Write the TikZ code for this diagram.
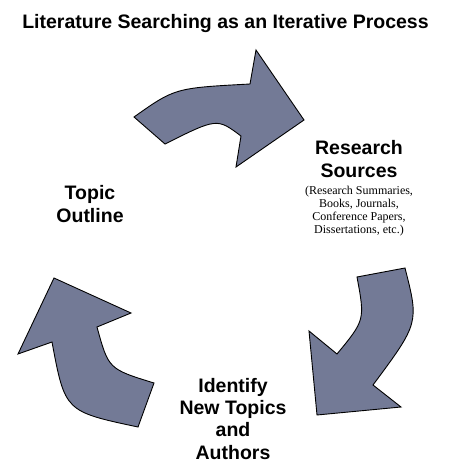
\documentclass[tikz,border=0pt]{standalone}
\usepackage{fontspec}
\setmainfont{Liberation Sans}
\newfontfamily\serifnote{Liberation Serif}
\definecolor{slate}{RGB}{115,122,150}
\begin{document}
\begin{tikzpicture}[x=1pt,y=-1pt,
  blockarrow/.style={fill=slate,draw=black,line width=0.9pt,line join=miter},
  boldlabel/.style={align=center,font=\fontsize{19.5}{22.3}\selectfont\bfseries,inner sep=0pt},
  notelabel/.style={align=center,font=\serifnote\fontsize{12}{13}\selectfont,inner sep=0pt}]
\useasboundingbox (0,0) rectangle (450,471);
% title
\node[boldlabel,anchor=base] (title) at (225.5,28) {Literature Searching as an Iterative Process};
% arrows
\draw[blockarrow] (134,117) .. controls (175,88) .. (250,84) -- (256,50) -- (304,120)
  -- (236,167) -- (241,136) .. controls (217,118) .. (165,144) -- cycle;
\draw[blockarrow] (357,277) -- (405,268) .. controls (419,323) .. (373,385) -- (401,407)
  -- (317,415) -- (309,331) -- (337,354) .. controls (365,320) .. (357,277) -- cycle;
\draw[blockarrow] (54,278) -- (131,313) -- (97,327) .. controls (108.5,369) .. (154,383)
  -- (138,427) .. controls (65,411.5) .. (52,342) -- (18,354) -- cycle;
% labels (base anchor = baseline of the last line)
\node[boldlabel,anchor=base] (research) at (359,177) {Research\\Sources};
\node[notelabel,anchor=base] (details) at (359,233) {(Research Summaries,\\Books, Journals,\\Conference Papers,\\Dissertations, etc.)};
\node[boldlabel,anchor=base] (topic) at (90,222) {Topic\\Outline};
\node[boldlabel,anchor=base] (identify) at (233,459) {Identify\\New Topics\\and\\Authors};
\end{tikzpicture}
\end{document}
